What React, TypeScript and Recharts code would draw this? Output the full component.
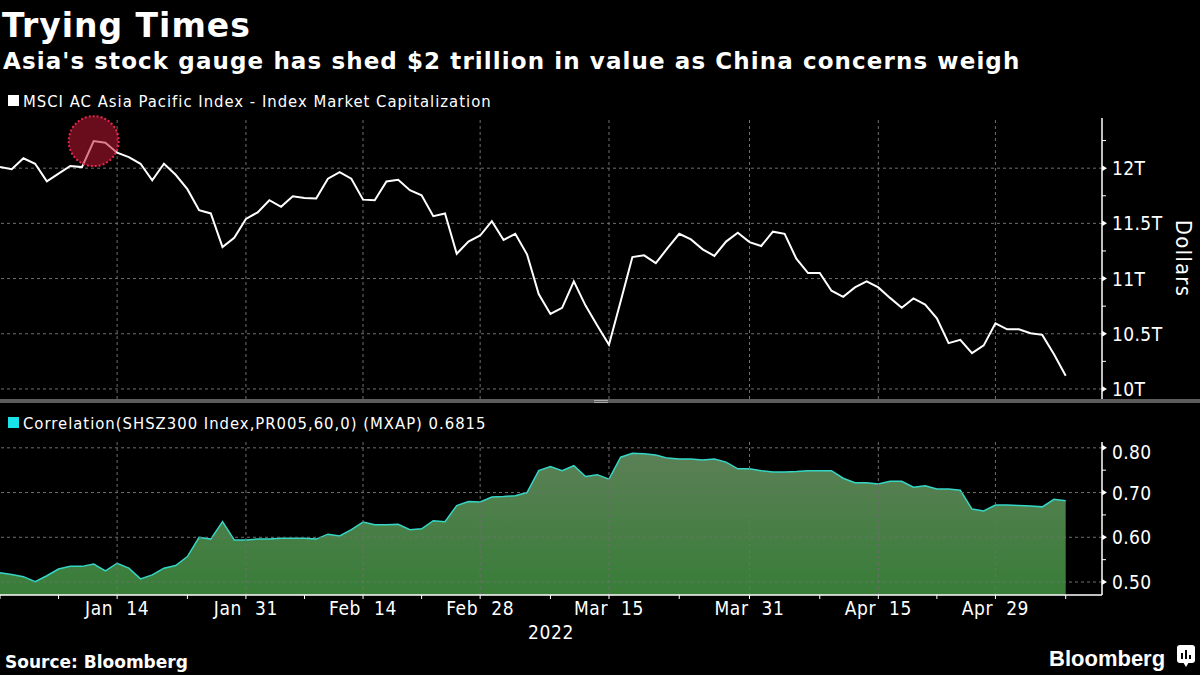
import React from 'react';
import {
  LineChart,
  Line,
  AreaChart,
  Area,
  XAxis,
  YAxis,
  ReferenceLine,
  ReferenceDot,
} from 'recharts';

// MSCI AC Asia Pacific market cap, trillions of dollars, one value per weekday from Dec 31, 2021
const MARKET_CAP = [
  12.01, 11.99, 12.09, 12.04, 11.88, 11.95, 12.02, 12.01, 12.245, 12.23,
  12.14, 12.1, 12.04, 11.89, 12.04, 11.94, 11.81, 11.62, 11.59, 11.285,
  11.37, 11.54, 11.6, 11.71, 11.65, 11.745, 11.73, 11.725, 11.905, 11.965,
  11.905, 11.715, 11.71, 11.88, 11.895, 11.8, 11.755, 11.565, 11.59, 11.225,
  11.335, 11.39, 11.52, 11.35, 11.405, 11.22, 10.86, 10.68, 10.735, 10.975,
  10.755, 10.575, 10.4, 10.795, 11.195, 11.21, 11.14, 11.275, 11.405, 11.355,
  11.265, 11.205, 11.335, 11.415, 11.33, 11.295, 11.425, 11.405, 11.18, 11.05,
  11.05, 10.89, 10.835, 10.92, 10.975, 10.92, 10.825, 10.735, 10.82, 10.765,
  10.64, 10.415, 10.445, 10.325, 10.395, 10.595, 10.54, 10.54, 10.505, 10.49,
  10.315, 10.12,
];

// 60-day correlation of CSI 300 with MXAP, same days
const CORRELATION = [
  0.521, 0.517, 0.512, 0.501, 0.514, 0.529, 0.535, 0.535, 0.54, 0.525,
  0.542, 0.531, 0.507, 0.516, 0.531, 0.537, 0.557, 0.6, 0.596, 0.635,
  0.594, 0.594, 0.596, 0.596, 0.598, 0.598, 0.598, 0.596, 0.607, 0.603,
  0.617, 0.634, 0.628, 0.628, 0.629, 0.617, 0.619, 0.637, 0.635, 0.671,
  0.68, 0.679, 0.69, 0.691, 0.693, 0.7, 0.749, 0.758, 0.749, 0.76,
  0.736, 0.74, 0.73, 0.779, 0.788, 0.787, 0.784, 0.777, 0.775, 0.775,
  0.773, 0.775, 0.768, 0.753, 0.753, 0.749, 0.746, 0.746, 0.747, 0.749,
  0.749, 0.749, 0.732, 0.722, 0.722, 0.719, 0.725, 0.725, 0.712, 0.715,
  0.708, 0.708, 0.705, 0.663, 0.659, 0.672, 0.672, 0.671, 0.67, 0.668,
  0.685, 0.6815,
];

// x axis, in trading-day index
const DAY_TICKS = [0, 5, 10, 16, 21, 26, 31, 36, 41, 47, 52, 58, 64, 70, 75, 80, 85, 91];
const LABEL_DAYS = [10, 21, 31, 41, 52, 64, 75, 85];
const DAY_LABELS = ['Jan 14', 'Jan 31', 'Feb 14', 'Feb 28', 'Mar 15', 'Mar 31', 'Apr 15', 'Apr 29'];

const CAP_TICKS = [10, 10.25, 10.5, 10.75, 11, 11.25, 11.5, 11.75, 12, 12.25];
const CAP_GRID = [10, 10.5, 11, 11.5, 12];
const CORR_TICKS = [0.5, 0.55, 0.6, 0.65, 0.7, 0.75, 0.8];
const CORR_GRID = [0.5, 0.6, 0.7, 0.8];

const PEAK_DAY = 8;

const weekdays = (start: string, n: number) => {
  const out: string[] = [];
  const d = new Date(start + 'T00:00:00Z');
  while (out.length < n) {
    const w = d.getUTCDay();
    if (w !== 0 && w !== 6) out.push(d.toISOString().slice(0, 10));
    d.setUTCDate(d.getUTCDate() + 1);
  }
  return out;
};

const DATES = weekdays('2021-12-31', MARKET_CAP.length);

const rows = MARKET_CAP.map((cap, i) => ({
  i,
  date: DATES[i],
  cap,
  corr: CORRELATION[i],
}));

const FONT = '"DejaVu Sans Condensed", "DejaVu Sans", sans-serif';
const TITLE_FONT = '"DejaVu Sans", sans-serif';
const GRID = '#6e6e6e';
const X_DOMAIN: [number, number] = [0, 94.1];

const AxisTick = (props: any) => {
  const { x, y, payload, major, label, nudge = 0 } = props;
  const ax = x - 10;
  return (
    <g>
      {major ? (
        <polygon points={`${ax},${y - 3} ${ax + 5},${y} ${ax},${y + 3}`} fill="#fff" />
      ) : (
        <line x1={ax} x2={ax + 4} y1={y} y2={y} stroke="#fff" strokeWidth={1} />
      )}
      {major && (
        <text x={x} y={y + nudge} dy={7} fill="#fff" fontSize={19} fontFamily={FONT} letterSpacing={0.4}>
          {label(payload.value)}
        </text>
      )}
    </g>
  );
};

const DateTick = (props: any) => {
  const { x, y, payload } = props;
  const k = LABEL_DAYS.indexOf(payload.value);
  if (k < 0) return <g />;
  return (
    <text
      x={x}
      y={y}
      dy={14}
      textAnchor="middle"
      fill="#fff"
      fontSize={19}
      fontFamily={FONT}
      letterSpacing={0.6}
      style={{ wordSpacing: 7 }}
    >
      {DAY_LABELS[k]}
    </text>
  );
};

const DollarsLabel = (props: any) => {
  const { viewBox } = props;
  if (!viewBox) return null;
  const cx = viewBox.x + viewBox.width - 17;
  const cy = viewBox.y + viewBox.height / 2;
  return (
    <text
      x={cx}
      y={cy}
      transform={`rotate(90 ${cx} ${cy})`}
      textAnchor="middle"
      dominantBaseline="central"
      fill="#fff"
      fontSize={22}
      fontFamily={FONT}
      letterSpacing={1.2}
    >
      Dollars
    </text>
  );
};

const BloombergMark = () => (
  <g>
    <rect x={1177} y={645} width={18} height={18} rx={3} fill="#fff" />
    <polygon points="1183,662 1189,662 1186,667" fill="#fff" />
    <rect x={1181} y={653} width={2} height={6} fill="#000" />
    <rect x={1185} y={650} width={2} height={9} fill="#000" />
    <rect x={1189} y={655} width={2} height={4} fill="#000" />
  </g>
);

export default function App() {
  return (
    <div
      style={{
        position: 'absolute',
        left: 0,
        top: 0,
        width: 1200,
        height: 675,
        background: '#000',
        overflow: 'hidden',
      }}
    >
      <div style={{ position: 'absolute', left: 0, top: 0 }}>
        <LineChart width={1200} height={400} data={rows} margin={{ top: 118, right: 0, bottom: 1, left: 0 }}>
          <XAxis dataKey="i" type="number" domain={X_DOMAIN} ticks={DAY_TICKS} hide />
          <YAxis
            orientation="right"
            width={98}
            domain={[9.909, 12.4545]}
            ticks={CAP_TICKS}
            interval={0}
            axisLine={{ stroke: '#fff', strokeWidth: 1.5 }}
            tickLine={false}
            tickSize={5}
            tickMargin={5}
            tick={(p: any) => (
              <AxisTick {...p} major={CAP_GRID.includes(p.payload.value)} label={(v: number) => `${v}T`} />
            )}
            label={<DollarsLabel />}
          />
          {CAP_GRID.map((v) => (
            <ReferenceLine key={`h${v}`} y={v} stroke={GRID} strokeDasharray="3 3" />
          ))}
          {LABEL_DAYS.map((d) => (
            <ReferenceLine key={`v${d}`} x={d} stroke={GRID} strokeDasharray="3 3" />
          ))}
          <Line
            type="linear"
            dataKey="cap"
            stroke="#fff"
            strokeWidth={2}
            dot={false}
            isAnimationActive={false}
          />
          <ReferenceDot
            x={PEAK_DAY}
            y={MARKET_CAP[PEAK_DAY]}
            r={25}
            fill="#c01835"
            fillOpacity={0.55}
            stroke="#e8274f"
            strokeWidth={2}
            strokeDasharray="2 2"
          />
        </LineChart>
      </div>

      <div style={{ position: 'absolute', left: 0, top: 400 }}>
        <AreaChart width={1200} height={275} data={rows} margin={{ top: 42, right: 0, bottom: 0, left: 0 }}>
          <defs>
            <linearGradient id="corrFill" x1="0" y1="0" x2="0" y2="1">
              <stop offset="0%" stopColor="#5b8056" />
              <stop offset="100%" stopColor="#387d38" />
            </linearGradient>
          </defs>
          <XAxis
            dataKey="i"
            type="number"
            domain={X_DOMAIN}
            ticks={DAY_TICKS}
            interval={0}
            height={80}
            axisLine={{ stroke: '#fff', strokeWidth: 1.5 }}
            tickLine={{ stroke: '#fff' }}
            tickSize={4}
            tickMargin={2}
            tick={<DateTick />}
            label={{
              value: '2022',
              position: 'insideTop',
              offset: 31,
              fill: '#fff',
              fontSize: 19,
              fontFamily: FONT,
              letterSpacing: 0.6,
            }}
          />
          <YAxis
            orientation="right"
            width={98}
            domain={[0.471, 0.813]}
            ticks={CORR_TICKS}
            interval={0}
            axisLine={{ stroke: '#fff', strokeWidth: 1.5 }}
            tickLine={false}
            tickSize={5}
            tickMargin={5}
            tick={(p: any) => (
              <AxisTick
                {...p}
                major={CORR_GRID.includes(p.payload.value)}
                nudge={p.payload.value === 0.8 ? 4 : 0}
                label={(v: number) => v.toFixed(2)}
              />
            )}
          />
          <Area
            type="linear"
            dataKey="corr"
            stroke="#35d6c6"
            strokeWidth={1.5}
            fill="url(#corrFill)"
            fillOpacity={1}
            isAnimationActive={false}
          />
          {CORR_GRID.map((v) => (
            <ReferenceLine key={`h${v}`} y={v} stroke={GRID} strokeDasharray="3 3" />
          ))}
          {LABEL_DAYS.map((d) => (
            <ReferenceLine key={`v${d}`} x={d} stroke={GRID} strokeDasharray="3 3" />
          ))}
        </AreaChart>
      </div>

      {/* panel divider */}
      <div style={{ position: 'absolute', left: 0, top: 399, width: 1200, height: 4, background: '#5c5c5c' }} />
      <div style={{ position: 'absolute', left: 594, top: 400, width: 14, height: 1, background: '#aaa' }} />
      <div style={{ position: 'absolute', left: 594, top: 402, width: 14, height: 1, background: '#aaa' }} />

      <svg
        width={1200}
        height={675}
        style={{ position: 'absolute', left: 0, top: 0, pointerEvents: 'none' }}
      >
        <text x={2} y={37} fill="#fff" fontSize={33} fontWeight="bold" fontFamily={TITLE_FONT} letterSpacing={1}>
          Trying Times
        </text>
        <text x={3} y={69} fill="#fff" fontSize={23} fontWeight="bold" fontFamily={TITLE_FONT} letterSpacing={1.1}>
          Asia's stock gauge has shed $2 trillion in value as China concerns weigh
        </text>

        <rect x={8} y={95} width={11} height={11} fill="#fff" />
        <text x={23} y={107} fill="#fff" fontSize={16.5} fontFamily={FONT} letterSpacing={1}>
          MSCI AC Asia Pacific Index - Index Market Capitalization
        </text>

        <rect x={8} y={417} width={11} height={11} fill="#19e3e8" />
        <text x={23} y={429} fill="#fff" fontSize={16.5} fontFamily={FONT} letterSpacing={1}>
          Correlation(SHSZ300 Index,PR005,60,0) (MXAP) 0.6815
        </text>

        <text x={5} y={668} fill="#fff" fontSize={17} fontWeight="bold" fontFamily={TITLE_FONT}>
          Source: Bloomberg
        </text>
        <text x={1049} y={666} fill="#fff" fontSize={22} fontWeight="bold" fontFamily='"Liberation Sans", sans-serif'>
          Bloomberg
        </text>
        <BloombergMark />
      </svg>
    </div>
  );
}
